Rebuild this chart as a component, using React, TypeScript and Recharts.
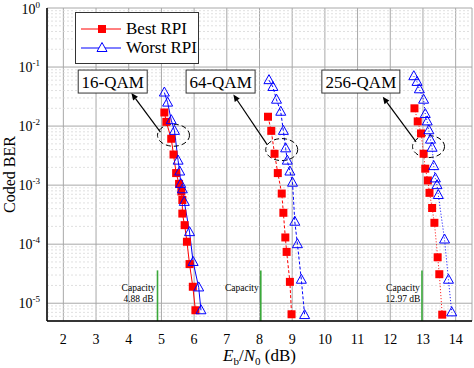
import React from 'react'
import { ComposedChart, Line, XAxis, YAxis, CartesianGrid, ReferenceLine, ReferenceDot, Legend } from 'recharts'

const SERIF = '"Liberation Serif", "DejaVu Serif", serif'

// 16-QAM
const best16X = [5.09, 5.15, 5.3, 5.37, 5.45, 5.54, 5.61, 5.64, 5.64, 5.71, 5.78, 5.86, 5.96, 6.04]
const best16Y = [1.7e-2, 1.18e-2, 6.1e-3, 3.3e-3, 1.6e-3, 1.05e-3, 7.8e-4, 5.6e-4, 3.3e-4, 2.1e-4, 1.1e-4, 4.6e-5, 1.9e-5, 7.6e-6]
const worst16X = [5.09, 5.19, 5.3, 5.4, 5.51, 5.56, 5.59, 5.64, 5.7, 5.86, 5.97, 6.14, 6.21]
const worst16Y = [3.7e-2, 2.5e-2, 1.26e-2, 8.3e-3, 2.6e-3, 1.7e-3, 1.05e-3, 8.5e-4, 5.2e-4, 1.6e-4, 5e-5, 1.85e-5, 7.6e-6]
// 64-QAM
const best64X = [8.26, 8.36, 8.46, 8.56, 8.68, 8.73, 8.79, 8.83, 8.93, 8.98]
const best64Y = [1.44e-2, 8.3e-3, 3.4e-3, 1.6e-3, 7.2e-4, 3.4e-4, 1.3e-4, 7.4e-5, 2.3e-5, 6.5e-6]
const worst64X = [8.29, 8.41, 8.52, 8.65, 8.73, 8.8, 8.85, 8.93, 9.01, 9.08, 9.16, 9.28, 9.38]
const worst64Y = [6e-2, 4.6e-2, 2.8e-2, 1.75e-2, 8.3e-3, 4.2e-3, 2.6e-3, 1.7e-3, 1.1e-3, 2.4e-4, 1.0e-4, 2.5e-5, 6.3e-6]
// 256-QAM
const best256X = [12.74, 12.84, 12.94, 13.02, 13.07, 13.15, 13.2, 13.28, 13.35, 13.45, 13.5, 13.59]
const best256Y = [2.0e-2, 1.2e-2, 7.5e-3, 3.4e-3, 1.9e-3, 1.2e-3, 7.4e-4, 4.1e-4, 2.3e-4, 6e-5, 3.1e-5, 6.4e-6]
const worst256X = [12.72, 12.82, 12.89, 13.02, 13.07, 13.13, 13.18, 13.23, 13.28, 13.33, 13.38, 13.43, 13.47, 13.66, 13.78, 13.88]
const worst256Y = [7e-2, 5.6e-2, 4.2e-2, 2.8e-2, 1.6e-2, 1.2e-2, 8.5e-3, 5.9e-3, 4.3e-3, 2.1e-3, 1.3e-3, 1e-3, 6.8e-4, 1.2e-4, 2.5e-5, 7e-6]

const xTicks = [2, 3, 4, 5, 6, 7, 8, 9, 10, 11, 12, 13, 14]
const xMinorTicks = [2.5, 3.5, 4.5, 5.5, 6.5, 7.5, 8.5, 9.5, 10.5, 11.5, 12.5, 13.5]
const yTicks = [1e-5, 1e-4, 1e-3, 1e-2, 1e-1, 1]
const yExponents = ['-5', '-4', '-3', '-2', '-1', '0']
const yMinorTicks = [-6, -5, -4, -3, -2, -1]
  .flatMap(e => [2, 3, 4, 5, 6, 7, 8, 9].map(k => k * Math.pow(10, e)))
  .filter(v => v > 5e-6 && v < 1)

// capacity markers
const capacityX = [4.88, 8.04, 12.97]
const capacityText = [['Capacity', '4.88 dB'], ['Capacity'], ['Capacity', '12.97 dB']]
const capacityTop = 3.6e-5

// annotations
const qamLabels = ['16-QAM', '64-QAM', '256-QAM']
const qamBoxX = [3.51, 6.81, 11.1]
const qamBoxY = 0.0568
const ellipseX = [5.37, 8.68, 13.17]
const ellipseY = [7.0e-3, 4.0e-3, 4.5e-3]
const arrowFromX = [4.97, 8.24, 12.79]
const arrowFromY = [7.9e-3, 4.8e-3, 5.4e-3]
const arrowToX = [4.08, 7.2, 11.77]
const arrowToY = [0.0363, 0.0344, 0.0314]

const Y_DOMAIN = [5e-6, 1]
const X_DOMAIN = [1.5, 14.5]

const zip = (xs: number[], ys: number[]) => xs.map((x, i) => ({ x, y: ys[i] }))

const RED = '#ff0000'
const BLUE = '#0000ff'

const Square = (p: any) =>
  p.cx == null ? <g key={p.key} /> : (
    <rect key={p.key} x={p.cx - 4} y={p.cy - 4} width={8} height={8} fill={RED} />
  )

const Triangle = (p: any) =>
  p.cx == null ? <g key={p.key} /> : (
    <polygon
      key={p.key}
      points={`${p.cx},${p.cy - 5.5} ${p.cx - 5},${p.cy + 3.5} ${p.cx + 5},${p.cy + 3.5}`}
      fill="none"
      stroke={BLUE}
      strokeWidth={1}
    />
  )

const EmptyTick = () => <g />

const XTick = (p: any) => (
  <text x={p.x} y={p.y + 15} textAnchor="middle" fontFamily={SERIF} fontSize={14} fill="#000">
    {p.payload.value}
  </text>
)

const YTick = (p: any) => {
  const i = yTicks.indexOf(p.payload.value)
  return (
    <text x={p.x + 1} y={p.y + 5} textAnchor="end" fontFamily={SERIF} fontSize={14} fill="#000">
      10<tspan fontSize={9} dy={-6}>{yExponents[i]}</tspan>
    </text>
  )
}

const Arrow = (p: any) => {
  const { x1, y1, x2, y2 } = p
  const a = Math.atan2(y2 - y1, x2 - x1)
  const L = 7
  const W = 3
  const bx = x2 - L * Math.cos(a)
  const by = y2 - L * Math.sin(a)
  return (
    <g>
      <line x1={x1} y1={y1} x2={bx} y2={by} stroke="#000" strokeWidth={1.2} />
      <polygon
        points={`${x2},${y2} ${bx + W * Math.sin(a)},${by - W * Math.cos(a)} ${bx - W * Math.sin(a)},${by + W * Math.cos(a)}`}
        fill="#000"
      />
    </g>
  )
}

const capacityShape = (texts: string[]) => (p: any) => (
  <g>
    <line x1={p.x1} y1={p.y1} x2={p.x2} y2={p.y2} stroke="#3aa83a" strokeWidth={1.6} />
    {texts.map((t, i) => (
      <text
        key={t}
        x={Math.min(p.x1, p.x2) - 19}
        y={Math.min(p.y1, p.y2) + 21 + i * 11}
        textAnchor="middle"
        fontFamily={SERIF}
        fontSize={9.5}
        fill="#000"
      >
        {t}
      </text>
    ))}
  </g>
)

const boxShape = (label: string) => (p: any) => {
  const w = label.length > 6 ? 78 : 69
  return (
    <g>
      <rect x={p.cx - w / 2} y={p.cy - 11.5} width={w} height={23} fill="#fff" stroke="#333" strokeWidth={1} />
      <text x={p.cx} y={p.cy + 6} textAnchor="middle" fontFamily={SERIF} fontSize={17} fill="#000">
        {label}
      </text>
    </g>
  )
}

const EllipseShape = (p: any) => (
  <ellipse cx={p.cx} cy={p.cy} rx={16} ry={11} fill="none" stroke="#000" strokeWidth={1} strokeDasharray="5 3" />
)

const renderLegend = () => (
  <div
    style={{
      width: 124,
      height: 52,
      boxSizing: 'border-box',
      border: '1px solid #333',
      background: '#fff',
      fontFamily: SERIF,
      fontSize: 17,
      color: '#000',
      paddingTop: 6,
    }}
  >
    {[
      { name: 'Best RPI', color: RED, square: true },
      { name: 'Worst RPI', color: BLUE, square: false },
    ].map(e => (
      <div key={e.name} style={{ display: 'flex', alignItems: 'center', height: 19 }}>
        <svg width={50} height={14} style={{ flex: 'none' }}>
          <line x1={5} y1={7} x2={45} y2={7} stroke={e.color} strokeWidth={1} />
          {e.square ? (
            <rect x={22} y={3} width={8} height={8} fill={RED} />
          ) : (
            <polygon points="26,1.5 21,10.5 31,10.5" fill="#fff" stroke={BLUE} strokeWidth={1} />
          )}
        </svg>
        <span style={{ lineHeight: '19px' }}>{e.name}</span>
      </div>
    ))}
  </div>
)

const YLabel = (p: any) => {
  const vb = p.viewBox
  const cx = vb.x + 11
  const cy = vb.y + vb.height / 2 + 10
  return (
    <text x={cx} y={cy} transform={`rotate(-90 ${cx} ${cy})`} textAnchor="middle" dominantBaseline="middle" fontFamily={SERIF} fontSize={16} fill="#000">
      Coded BER
    </text>
  )
}

const XLabel = (p: any) => {
  const vb = p.viewBox
  return (
    <text x={vb.x + vb.width / 2} y={vb.y + 40} textAnchor="middle" fontFamily={SERIF} fontSize={17} fill="#000">
      <tspan fontStyle="italic">E</tspan>
      <tspan fontSize={11} dy={4}>b</tspan>
      <tspan dy={-4}>/</tspan>
      <tspan fontStyle="italic">N</tspan>
      <tspan fontSize={11} dy={4}>0</tspan>
      <tspan dy={-4}> (dB)</tspan>
    </text>
  )
}

const series = [
  { data: zip(best16X, best16Y), color: RED, dash: undefined, dot: Square },
  { data: zip(best64X, best64Y), color: RED, dash: '3 2', dot: Square },
  { data: zip(best256X, best256Y), color: RED, dash: '1 2', dot: Square },
  { data: zip(worst16X, worst16Y), color: BLUE, dash: undefined, dot: Triangle },
  { data: zip(worst64X, worst64Y), color: BLUE, dash: '3 2', dot: Triangle },
  { data: zip(worst256X, worst256Y), color: BLUE, dash: '1 2', dot: Triangle },
]

export default function App() {
  return (
    <div style={{ position: 'absolute', left: 0, top: 0 }}>
      <ComposedChart width={474} height={368} margin={{ top: 8, right: 2, bottom: 0, left: 0 }}>
        <XAxis
          xAxisId="x"
          dataKey="x"
          type="number"
          domain={X_DOMAIN}
          ticks={xTicks}
          allowDataOverflow
          height={47}
          tickLine={false}
          tick={XTick}
          axisLine={{ stroke: '#000', strokeWidth: 1.5 }}
          label={XLabel}
        />
        <XAxis xAxisId="xMaj" type="number" domain={X_DOMAIN} ticks={xTicks} allowDataOverflow mirror height={0}
          tick={EmptyTick} tickSize={6} tickLine={{ stroke: '#000', strokeWidth: 1.5 }} axisLine={false} />
        <XAxis xAxisId="xMin" type="number" domain={X_DOMAIN} ticks={xMinorTicks} allowDataOverflow mirror height={0}
          tick={EmptyTick} tickSize={3} tickLine={{ stroke: '#000', strokeWidth: 1.5 }} axisLine={false} />
        <XAxis xAxisId="xTop" orientation="top" type="number" domain={X_DOMAIN} ticks={xTicks} allowDataOverflow mirror height={0}
          tick={EmptyTick} tickSize={6} tickLine={{ stroke: '#000', strokeWidth: 1.5 }} axisLine={{ stroke: '#000', strokeWidth: 1.5 }} />
        <YAxis
          yAxisId="y"
          scale="log"
          type="number"
          domain={Y_DOMAIN}
          ticks={yTicks}
          allowDataOverflow
          width={47}
          tickLine={false}
          tick={YTick}
          axisLine={{ stroke: '#000', strokeWidth: 1.5 }}
          label={YLabel}
        />
        <YAxis yAxisId="yMaj" scale="log" type="number" domain={Y_DOMAIN} ticks={yTicks} allowDataOverflow mirror width={0}
          tick={EmptyTick} tickSize={6} tickLine={{ stroke: '#000', strokeWidth: 1.5 }} axisLine={false} />
        <YAxis yAxisId="yMin" scale="log" type="number" domain={Y_DOMAIN} ticks={yMinorTicks} allowDataOverflow mirror width={0}
          tick={EmptyTick} tickSize={3.5} tickLine={{ stroke: '#000', strokeWidth: 1.2 }} axisLine={false} />
        <YAxis yAxisId="yRight" orientation="right" scale="log" type="number" domain={Y_DOMAIN} ticks={yTicks} allowDataOverflow mirror width={0}
          tick={EmptyTick} tickSize={6} tickLine={{ stroke: '#000', strokeWidth: 1.5 }} axisLine={{ stroke: '#000', strokeWidth: 1.5 }} />

        {yMinorTicks.map(v => (
          <ReferenceLine key={v} xAxisId="x" yAxisId="y" y={v} stroke="#d8d8d8" strokeDasharray="2 2" strokeWidth={0.8} />
        ))}
        <CartesianGrid xAxisId="x" yAxisId="y" stroke="#a8a8a8" strokeWidth={1} />

        {capacityX.map((cx, i) => (
          <ReferenceLine
            key={cx}
            xAxisId="x"
            yAxisId="y"
            segment={[{ x: cx, y: Y_DOMAIN[0] }, { x: cx, y: capacityTop }]}
            shape={capacityShape(capacityText[i])}
          />
        ))}

        {series.map((s, i) => (
          <Line
            key={i}
            data={s.data}
            xAxisId="x"
            yAxisId="y"
            dataKey="y"
            stroke={s.color}
            strokeWidth={1}
            strokeDasharray={s.dash}
            dot={s.dot}
            activeDot={false}
            legendType="none"
            isAnimationActive={false}
          />
        ))}

        {qamLabels.map((q, i) => (
          <ReferenceLine
            key={'a' + q}
            xAxisId="x"
            yAxisId="y"
            segment={[{ x: arrowFromX[i], y: arrowFromY[i] }, { x: arrowToX[i], y: arrowToY[i] }]}
            shape={Arrow}
          />
        ))}
        {qamLabels.map((q, i) => (
          <ReferenceDot key={'e' + q} xAxisId="x" yAxisId="y" x={ellipseX[i]} y={ellipseY[i]} shape={EllipseShape} />
        ))}
        {qamLabels.map((q, i) => (
          <ReferenceDot key={'b' + q} xAxisId="x" yAxisId="y" x={qamBoxX[i]} y={qamBoxY} shape={boxShape(q)} />
        ))}

        <Legend
          layout="vertical"
          align="center"
          verticalAlign="middle"
          content={renderLegend}
          wrapperStyle={{ position: 'absolute', left: 75, top: 12, width: 124, height: 52 }}
        />
      </ComposedChart>
    </div>
  )
}
